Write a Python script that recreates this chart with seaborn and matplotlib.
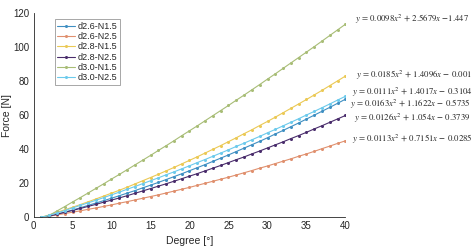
import numpy as np
import pandas as pd
import matplotlib
matplotlib.use("Agg")
import matplotlib.pyplot as plt
import seaborn as sns

# degree steps (markers every 1 degree)
degree = list(range(1, 41))

# force values [N]
d26_n15 = [0, 0.6, 1.8, 3.1, 4.3, 5.6, 7.0, 8.4, 9.8, 11.2, 12.7, 14.2, 15.7, 17.3, 18.9, 20.5,
           22.2, 23.9, 25.6, 27.4, 29.2, 31.0, 32.9, 34.8, 36.7, 38.7, 40.7, 42.7, 44.7, 46.8,
           49.0, 51.1, 53.3, 55.5, 57.8, 60.1, 62.4, 64.7, 67.1, 69.5]
d26_n25 = [0, 0.7, 1.4, 2.2, 3.0, 3.8, 4.7, 5.5, 6.4, 7.3, 8.3, 9.2, 10.2, 11.2, 12.2, 13.2,
           14.3, 15.4, 16.5, 17.6, 18.8, 20.0, 21.2, 22.4, 23.6, 24.9, 26.2, 27.5, 28.9, 30.2,
           31.6, 33.0, 34.4, 35.9, 37.3, 38.8, 40.4, 41.9, 43.5, 45.0]
d28_n15 = [0, 1.4, 2.9, 4.4, 5.9, 7.5, 9.1, 10.8, 12.5, 14.2, 15.9, 17.7, 19.6, 21.5, 23.4, 25.3,
           27.3, 29.3, 31.4, 33.5, 35.6, 37.8, 40.0, 42.2, 44.5, 46.8, 49.2, 51.5, 54.0, 56.4,
           58.9, 61.5, 64.1, 66.7, 69.3, 72.0, 74.7, 77.5, 80.3, 83.1]
d28_n25 = [0, 0.7, 1.8, 2.9, 4.0, 5.2, 6.4, 7.6, 8.9, 10.1, 11.4, 12.7, 14.1, 15.5, 16.9, 18.3,
           19.7, 21.2, 22.7, 24.2, 25.7, 27.3, 28.9, 30.5, 32.2, 33.9, 35.5, 37.3, 39.0, 40.8,
           42.6, 44.4, 46.3, 48.1, 50.0, 52.0, 53.9, 55.9, 57.9, 59.9]
d30_n15 = [0, 1.1, 3.7, 6.3, 9.0, 11.6, 14.3, 17.0, 19.7, 22.5, 25.2, 28.0, 30.8, 33.6, 36.4, 39.3,
           42.1, 45.0, 48.0, 50.9, 53.8, 56.8, 59.8, 62.8, 65.8, 68.9, 71.9, 75.0, 78.1, 81.3,
           84.4, 87.6, 90.8, 94.0, 97.2, 100.4, 103.7, 107.0, 110.3, 113.6]
d30_n25 = [0, 1.1, 2.5, 4.0, 5.5, 7.0, 8.5, 10.0, 11.6, 13.2, 14.8, 16.5, 18.1, 19.8, 21.5, 23.2,
           25.0, 26.7, 28.5, 30.3, 32.2, 34.0, 35.9, 37.8, 39.7, 41.7, 43.6, 45.6, 47.6, 49.7,
           51.7, 53.8, 55.9, 58.0, 60.2, 62.3, 64.5, 66.7, 69.0, 71.2]

series_names = ["d2.6-N1.5", "d2.6-N2.5", "d2.8-N1.5", "d2.8-N2.5", "d3.0-N1.5", "d3.0-N2.5"]
series_values = [d26_n15, d26_n25, d28_n15, d28_n25, d30_n15, d30_n25]
colors = ["#3f8fc2", "#e0906e", "#ebc955", "#4a2d6c", "#a8bd76", "#6ccaec"]

# trendline equations shown next to the line ends
equations = [
    ("$y$ = 0.0163$x^2$ + 1.1622$x$ − 0.5735", 350, 104.5),
    ("$y$ = 0.0113$x^2$ + 0.7151$x$ − 0.0285", 352, 139),
    ("$y$ = 0.0185$x^2$ + 1.4096$x$ − 0.001", 356, 75),
    ("$y$ = 0.0126$x^2$ + 1.054$x$ − 0.3739", 354, 118),
    ("$y$ = 0.0098$x^2$ + 2.5679$x$ −1.447", 355, 19.5),
    ("$y$ = 0.0111$x^2$ + 1.4017$x$ − 0.3104", 351.5, 92),
]

df = pd.DataFrame({
    "Degree": degree * len(series_names),
    "Force": np.concatenate(series_values),
    "series": np.repeat(series_names, len(degree)),
})

sns.set_style("white")
plt.rcParams["font.family"] = ["Liberation Sans", "DejaVu Sans"]
plt.rcParams["mathtext.fontset"] = "stix"

W, H = 474, 246
fig = plt.figure(figsize=(W / 100, H / 100), dpi=100)
ax = fig.add_axes([33.5 / W, 1 - 217.3 / H, 312 / W, 204 / H])

sns.lineplot(data=df, x="Degree", y="Force", hue="series", hue_order=series_names,
             palette=colors, marker="o", markersize=2.2, markeredgewidth=0,
             linewidth=0.8, ax=ax)

ax.set_xlim(0, 40)
ax.set_ylim(0, 120)
ax.set_xticks(range(0, 41, 5))
ax.set_yticks(range(0, 121, 20))
ax.tick_params(direction="in", length=2.5, width=0.6, labelsize=7, colors="#262626", pad=3)
for side in ["top", "right"]:
    ax.spines[side].set_visible(False)
for side in ["left", "bottom"]:
    ax.spines[side].set_color("#262626")
    ax.spines[side].set_linewidth(0.6)
ax.set_xlabel("Degree [°]", fontsize=7.5, color="#262626", labelpad=3)
ax.set_ylabel("Force [N]", fontsize=7.5, color="#262626")
ax.yaxis.set_label_coords(-0.069, 0.5)

leg = ax.legend(loc="upper left", bbox_to_anchor=(0.069, 0.97), fontsize=6.5,
                frameon=True, fancybox=False, handlelength=2.0, handletextpad=0.3,
                labelspacing=0.15, borderpad=0.25, borderaxespad=0)
leg.get_frame().set_edgecolor("#7f7f7f")
leg.get_frame().set_linewidth(0.6)

for text, px, py in equations:
    fig.text(px / W, 1 - py / H, text, fontsize=6.3, va="center", ha="left",
             color="#222222", family="STIXGeneral")

fig.savefig("out.png", dpi=100)
